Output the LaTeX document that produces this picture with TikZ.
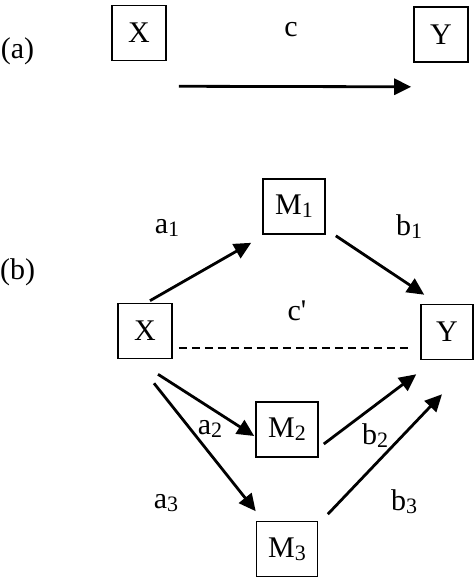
\documentclass[tikz,border=0pt]{standalone}
\usepackage{fontspec}
\setmainfont{Liberation Serif}
\usepackage{tikz}
\usetikzlibrary{arrows.meta}
\definecolor{ink}{HTML}{000000}
\definecolor{paper}{HTML}{FFFFFF}
\newcommand{\lowidx}[1]{\raisebox{-0.1em}{\fontsize{22}{24}\selectfont #1}}
\tikzset{
  box/.style={draw=ink, line width=1.6pt, minimum width=54pt, minimum height=55pt, inner sep=0pt, font=\fontsize{30}{34}\selectfont},
  wbox/.style={box, minimum width=62pt},
  arr/.style={draw=ink, line width=2.8pt, -{Triangle[length=17pt,width=16pt]}},
  help/.style={draw=ink, line width=1.8pt, dash pattern=on 8pt off 5pt},
  lab/.style={text=ink, inner sep=0pt, font=\fontsize{30}{34}\selectfont},
}

\begin{document}
\begin{tikzpicture}[x=1pt,y=1pt]
  \fill[paper] (0,0) rectangle (474,577);
  \useasboundingbox (0,0) rectangle (474,577);

  % panel (a)
  \node[lab] (pa) at (17.5,525.5) {(a)};
  \node[box] (xa) at (139,544) {X};
  \node[box] (ya) at (441,542.5) {Y};
  \node[lab] (lc) at (291,547) {c};
  \draw[arr] ([shift={(12,-25)}]xa.south east) -- ([shift={(-2,-24)}]ya.south west);

  % panel (b)
  \node[lab] (pb) at (17.5,305) {(b)};
  \node[box] (xb) at (145,246) {X};
  \node[box, minimum width=52pt] (yb) at (447,245) {Y};
  \node[wbox] (mone) at (294,370.5) {M\lowidx{1}};
  \node[wbox] (mtwo) at (287,147.5) {M\lowidx{2}};
  \node[wbox, minimum width=61pt] (mthree) at (287,28) {M\lowidx{3}};

  \draw[arr] ([shift={(5,2)}]xb.north) -- ([shift={(-11,-8)}]mone.south west);
  \draw[arr] ([shift={(10,-1)}]mone.south east) -- ([shift={(4,9)}]yb.north west);
  \draw[help] ([shift={(6,-17)}]xb.east) -- ([shift={(-9,-16)}]yb.west);
  \draw[arr] ([shift={(13,-15)}]xb.south) -- ([shift={(-1,-6.5)}]mtwo.west);
  \draw[arr] ([shift={(9,-24)}]xb.south) -- ([shift={(0,9.5)}]mthree.north west);
  \draw[arr] ([shift={(5,-14.5)}]mtwo.east) -- ([shift={(-4,-14)}]yb.south west);
  \draw[arr] ([shift={(9.5,6.5)}]mthree.north east) -- ([shift={(-5,-34)}]yb.south);

  \node[lab] (la1) at (167,349) {a\lowidx{1}};
  \node[lab] (lb1) at (409,350) {b\lowidx{1}};
  \node[lab] (lcp) at (297,266) {c\textquotesingle};
  \node[lab] (la2) at (210,148) {a\lowidx{2}};
  \node[lab] (lb2) at (375,141) {b\lowidx{2}};
  \node[lab] (la3) at (166,74) {a\lowidx{3}};
  \node[lab] (lb3) at (404,75) {b\lowidx{3}};
\end{tikzpicture}
\end{document}
